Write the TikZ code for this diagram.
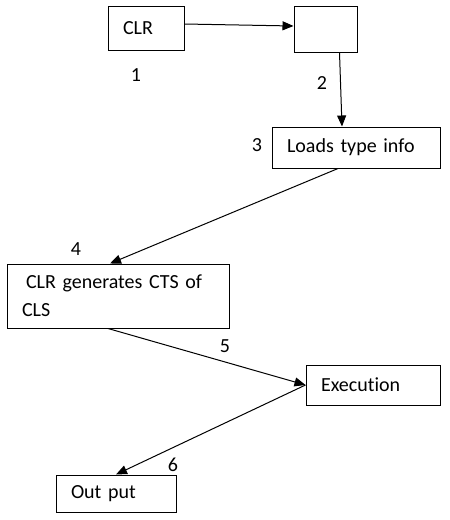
\documentclass[tikz,border=0pt]{standalone}
\usepackage{fontspec}
\setmainfont{Carlito}[Ligatures=NoCommon]
\usetikzlibrary{arrows.meta}
\begin{document}
\begin{tikzpicture}[x=1pt, y=-1pt, line width=1pt,
    box/.style={draw, rectangle, inner ysep=0pt, inner xsep=15pt, align=left, font=\fontsize{20}{28}\selectfont},
    num/.style={font=\fontsize{20}{24}\selectfont},
    flow/.style={-{Triangle[length=11pt, width=9pt]}}]
    \useasboundingbox (0, 0) rectangle (450, 520);
    % boxes
    \node[box, text width=46pt, minimum height=44pt] (clr) at (146, 28) {CLR};
    \node[box, minimum width=63pt, minimum height=46pt] (blank) at (325.5, 29) {};
    \node[box, text width=138pt, minimum height=41pt] (loads) at (356, 147.5) {Loads type info};
    \node[box, text width=192pt, minimum height=64pt] (gen) at (118, 296) {\hspace{4pt}CLR generates CTS of\\CLS};
    \node[box, text width=104pt, minimum height=40pt] (exec) at (373, 385) {Execution};
    \node[box, text width=90pt, minimum height=37pt] (out) at (116, 493.5) {Out put};
    % step numbers
    \foreach \n/\px/\py in {1/136/75, 2/322/83, 3/257/145, 4/76/249, 5/225/346, 6/173/465}
        \node[num] (n\n) at (\px, \py) {\n};
    % flow
    \draw[flow] ([yshift=4pt]clr.east) -- ([yshift=3pt]blank.west);
    \draw[flow] ([xshift=14pt]blank.south) -- ([xshift=-14pt]loads.north);
    \draw[flow] ([xshift=-18pt]loads.south) -- ([xshift=-8pt]gen.north);
    \draw[flow] ([xshift=-10pt]gen.south) -- (exec.west);
    \draw[flow] (exec.west) -- (out.north);
\end{tikzpicture}
\end{document}
